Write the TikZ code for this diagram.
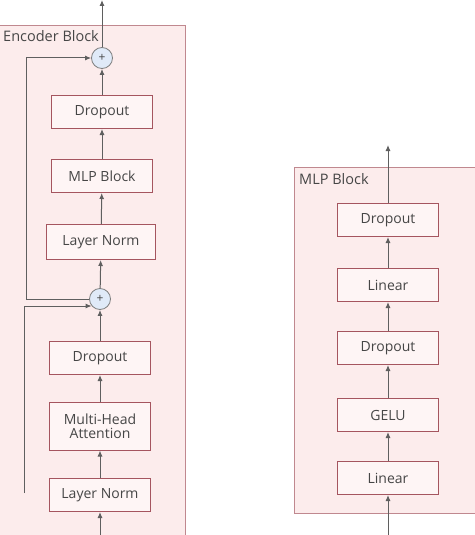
\documentclass[tikz,border=0pt]{standalone}
\usepackage{fontspec}
\setmainfont{Open Sans}
\usepackage{xcolor}
\usetikzlibrary{positioning, calc, arrows.meta}
\definecolor{blockpink}{RGB}{252,236,236}
\definecolor{boxred}{RGB}{165,85,95}
\definecolor{arrowgray}{RGB}{95,95,95}
\definecolor{plusblue}{RGB}{224,234,248}
\definecolor{textgray}{RGB}{70,70,70}

\begin{document}
\begin{tikzpicture}[x=1pt, y=-1pt,
  layer/.style={draw=boxred, fill=blockpink!50, line width=1pt, minimum width=101pt, minimum height=33pt, text=textgray, font=\fontsize{14}{16}\selectfont, align=center, inner sep=1pt},
  addop/.style={circle, draw=arrowgray!80, fill=plusblue, line width=0.8pt, minimum size=21pt, inner sep=0pt, text=textgray, font=\fontsize{12}{12}\selectfont},
  title/.style={anchor=north west, text=textgray, font=\fontsize{14.5}{16}\selectfont, inner sep=0pt},
  arr/.style={draw=arrowgray, line width=1pt, -{Latex[length=6pt, width=5pt]}}]
\useasboundingbox (0,0) rectangle (474,535);

%% encoder block background
\fill[blockpink] (-2,25) rectangle (185,537);
\draw[boxred!70, line width=0.8pt] (-2,25) -- (185,25) -- (185,537);
\node[title] (enctitle) at (3,30) {Encoder Block};

\node[layer] (ln1) at (100,495) {Layer Norm};
\node[layer, minimum height=48pt] (mha) at (100,426) {Multi-Head\\[-2pt]Attention};
\node[layer] (do1) at (100,358) {Dropout};
\node[addop] (addA) at (100,299) {+};
\node[layer, minimum width=109pt, minimum height=35pt] (ln2) at (101,242) {Layer Norm};
\node[layer] (mlp) at (102,176) {MLP Block};
\node[layer] (do2) at (102,112) {Dropout};
\node[addop] (addB) at (102,58) {+};

\coordinate (encin) at (100,537);
\coordinate (encout) at (102,0);
\coordinate (skipA) at (26,299);
\coordinate (skipB) at (24,493);

\draw[arr] (encin) -- (ln1);
\draw[arr] (ln1) -- (mha);
\draw[arr] (mha) -- (do1);
\draw[arr] (do1) -- (addA);
\draw[arr] (addA) -- (ln2);
\draw[arr] (ln2) -- (mlp);
\draw[arr] (mlp) -- (do2);
\draw[arr] (do2) -- (addB);
\draw[arr] (addB) -- (encout);
\draw[arr] (addA.west) -- (skipA) |- (addB.west);
\draw[arr] (skipB) |- (addA.220);

%% MLP block background
\fill[blockpink] (294,167) rectangle (476,513);
\draw[boxred!70, line width=0.8pt] (476,167) -- (294,167) -- (294,513) -- (476,513);
\node[title] (mlptitle) at (299,173) {MLP Block};

\node[layer] (lin1) at (388,478) {Linear};
\node[layer] (gelu) at (388,415) {GELU};
\node[layer] (do3) at (388,348) {Dropout};
\node[layer] (lin2) at (388,285) {Linear};
\node[layer] (do4) at (388,220) {Dropout};

\coordinate (mlpin) at (388,537);
\coordinate (mlpout) at (388,145);

\draw[arr] (mlpin) -- (lin1);
\draw[arr] (lin1) -- (gelu);
\draw[arr] (gelu) -- (do3);
\draw[arr] (do3) -- (lin2);
\draw[arr] (lin2) -- (do4);
\draw[arr] (do4) -- (mlpout);
\end{tikzpicture}
\end{document}
